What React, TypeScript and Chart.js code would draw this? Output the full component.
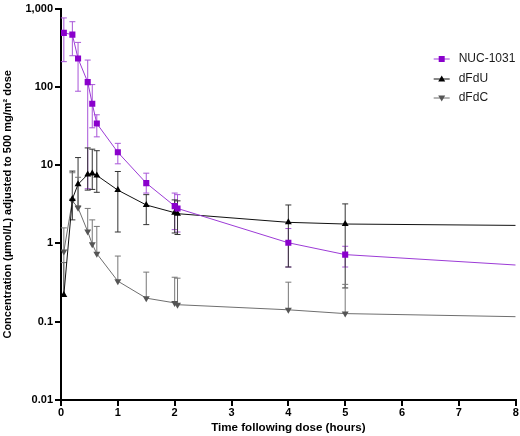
import React, { useEffect, useRef } from "react";
import { Chart, registerables } from "chart.js";

Chart.register(...registerables);

// Time points (hours); the last point (8 h) is the fitted-curve end, drawn without a marker
const timesH = [0.05, 0.2, 0.3, 0.47, 0.55, 0.63, 1, 1.5, 2, 2.05, 4, 5, 8];

const nucMean = [490, 465, 230, 115, 61, 34, 14.6, 5.9, 3.0, 2.8, 1.02, 0.72, 0.53];
const nucUpper = [760, 680, 370, 220, 107, 44, 19, 7.9, 4.4, 4.2, 1.55, 0.92, null];
const nucLower = [210, 250, 88, 5.0, 30, 23, 10.4, 4.4, 1.5, 1.4, 0.5, 0.5, null];

const dfduMean = [0.22, 3.7, 5.7, 7.6, 7.85, 7.4, 4.8, 3.1, 2.47, 2.4, 1.86, 1.77, 1.7];
const dfduUpper = [0.57, 8.4, 12.5, 16.6, 16, 15.3, 8.3, 4.2, 3.6, 3.5, 3.1, 3.2, null];
const dfduLower = [null, 2.0, 3.0, 4.8, 4.9, 4.5, 1.4, 1.74, 1.36, 1.3, 0.5, 0.27, null];

const dfdcMean = [0.79, 3.5, 2.85, 1.42, 0.98, 0.74, 0.33, 0.2, 0.174, 0.165, 0.142, 0.127, 0.116];
const dfdcUpper = [1.58, 8.0, 7.0, 2.8, 2.0, 1.65, 0.69, 0.43, 0.37, 0.36, 0.32, 0.3, null];
const dfdcLower = [0.57, null, null, null, null, null, null, null, null, null, null, null, null];

const seriesLabels = ["NUC-1031", "dFdU", "dFdC"];

const yTickValues = [0.01, 0.1, 1, 10, 100, 1000];
const yTickLabels = ["0.01", "0.1", "1", "10", "100", "1,000"];
const xTickValues = [0, 1, 2, 3, 4, 5, 6, 7, 8];

const FONT = "'Liberation Sans', Arial, Helvetica, sans-serif";

const errorBarPlugin = {
  id: "errorBars",
  beforeDatasetsDraw(chart: any) {
    const ctx = chart.ctx;
    const yScale = chart.scales.y;
    chart.data.datasets.forEach((ds: any, i: number) => {
      const meta = chart.getDatasetMeta(i);
      const up: (number | null)[] = ds.errUpper || [];
      const lo: (number | null)[] = ds.errLower || [];
      ctx.save();
      ctx.strokeStyle = ds.errColor;
      ctx.lineWidth = 1;
      meta.data.forEach((el: any, j: number) => {
        const x = el.x;
        const yv = el.y;
        const u = up[j];
        const l = lo[j];
        const cap = 3;
        if (u != null) {
          const yu = yScale.getPixelForValue(u);
          ctx.beginPath();
          ctx.moveTo(x, yv);
          ctx.lineTo(x, yu);
          ctx.moveTo(x - cap, yu);
          ctx.lineTo(x + cap, yu);
          ctx.stroke();
        }
        if (l != null) {
          const yl = yScale.getPixelForValue(l);
          ctx.beginPath();
          ctx.moveTo(x, yv);
          ctx.lineTo(x, yl);
          ctx.moveTo(x - cap, yl);
          ctx.lineTo(x + cap, yl);
          ctx.stroke();
        }
      });
      ctx.restore();
    });
  },
};

const legendPlugin = {
  id: "customLegend",
  afterDraw(chart: any) {
    const ctx = chart.ctx;
    const area = chart.chartArea;
    const mx = area.right - 74;
    const tx = area.right - 57;
    const rows = [59, 79, 98];
    chart.data.datasets.forEach((ds: any, i: number) => {
      const y = rows[i];
      ctx.save();
      ctx.strokeStyle = ds.borderColor;
      ctx.lineWidth = 1;
      ctx.beginPath();
      ctx.moveTo(mx - 8, y);
      ctx.lineTo(mx + 8, y);
      ctx.stroke();
      ctx.fillStyle = ds.pointBackgroundColor;
      ctx.strokeStyle = ds.pointBackgroundColor;
      if (ds.pointStyle === "rect") {
        ctx.fillRect(mx - 3, y - 3, 6, 6);
      } else {
        const r = 3.5;
        const dir = ds.pointRotation === 180 ? -1 : 1;
        ctx.beginPath();
        ctx.moveTo(mx, y - dir * r);
        ctx.lineTo(mx - r, y + dir * r * 0.7);
        ctx.lineTo(mx + r, y + dir * r * 0.7);
        ctx.closePath();
        ctx.fill();
      }
      ctx.fillStyle = "#1a1a1a";
      ctx.font = `12px ${FONT}`;
      ctx.textBaseline = "middle";
      ctx.textAlign = "left";
      ctx.fillText(seriesLabels[i], tx, y);
      ctx.restore();
    });
  },
};

function pts(vals: number[]) {
  return timesH.map((t, i) => ({ x: t, y: vals[i] }));
}

function radii(r: number) {
  return timesH.map((_, i) => (i === timesH.length - 1 ? 0 : r));
}

export default function App() {
  const ref = useRef<HTMLCanvasElement | null>(null);

  useEffect(() => {
    if (!ref.current) return;
    const chart = new Chart(ref.current, {
      type: "line",
      data: {
        datasets: [
          {
            label: seriesLabels[0],
            data: pts(nucMean),
            borderColor: "#9C3BD6",
            borderWidth: 1,
            pointStyle: "rect",
            pointRadius: radii(4.3),
            pointBackgroundColor: "#8A00CC",
            pointBorderColor: "#8A00CC",
            pointBorderWidth: 0,
            tension: 0,
            errUpper: nucUpper,
            errLower: nucLower,
            errColor: "#A855D8",
          } as any,
          {
            label: seriesLabels[1],
            data: pts(dfduMean),
            borderColor: "#111111",
            borderWidth: 1,
            pointStyle: "triangle",
            pointRadius: radii(4),
            pointBackgroundColor: "#000000",
            pointBorderColor: "#000000",
            pointBorderWidth: 0,
            tension: 0,
            errUpper: dfduUpper,
            errLower: dfduLower,
            errColor: "#333333",
          } as any,
          {
            label: seriesLabels[2],
            data: pts(dfdcMean),
            borderColor: "#6f6f6f",
            borderWidth: 1,
            pointStyle: "triangle",
            pointRotation: 180,
            pointRadius: radii(4),
            pointBackgroundColor: "#555555",
            pointBorderColor: "#555555",
            pointBorderWidth: 0,
            tension: 0,
            errUpper: dfdcUpper,
            errLower: dfdcLower,
            errColor: "#777777",
          } as any,
        ],
      },
      options: {
        animation: false,
        responsive: false,
        maintainAspectRatio: false,
        devicePixelRatio: 1,
        layout: { padding: { top: 5, right: 3, left: 0, bottom: 0 } },
        plugins: {
          legend: { display: false },
          tooltip: { enabled: false },
        },
        scales: {
          x: {
            type: "linear",
            min: 0,
            max: 8,
            afterBuildTicks: (scale: any) => {
              scale.ticks = xTickValues.map((v) => ({ value: v }));
            },
            afterFit: (scale: any) => {
              scale.height = 36;
            },
            ticks: {
              color: "#000",
              font: { family: FONT, size: 11, weight: "bold" },
              padding: 0,
              maxRotation: 0,
            },
            grid: {
              drawOnChartArea: false,
              drawTicks: true,
              tickLength: 6,
              color: "#000",
              lineWidth: 2,
            },
            border: { display: true, color: "#000", width: 2 },
            title: {
              display: true,
              text: "Time following dose (hours)",
              color: "#000",
              font: { family: FONT, size: 11.6, weight: "bold" },
              padding: { top: 0, bottom: 1 },
            },
          },
          y: {
            type: "logarithmic",
            min: 0.01,
            max: 1000,
            afterBuildTicks: (scale: any) => {
              scale.ticks = yTickValues.map((v) => ({ value: v }));
            },
            afterFit: (scale: any) => {
              scale.width = 61;
            },
            ticks: {
              color: "#000",
              font: { family: FONT, size: 11, weight: "bold" },
              padding: 2,
              callback: (v: any) => {
                const idx = yTickValues.findIndex((t) => Math.abs(t - Number(v)) < t * 1e-6);
                return idx >= 0 ? yTickLabels[idx] : "";
              },
            },
            grid: {
              drawOnChartArea: false,
              drawTicks: true,
              tickLength: 6,
              color: "#000",
              lineWidth: 2,
            },
            border: { display: true, color: "#000", width: 2 },
            title: {
              display: true,
              text: "Concentration (µmol/L) adjusted to 500 mg/m² dose",
              color: "#000",
              font: { family: FONT, size: 11, weight: "bold" },
              padding: { top: 1, bottom: 0 },
            },
          },
        },
      },
      plugins: [errorBarPlugin, legendPlugin],
    } as any);
    return () => chart.destroy();
  }, []);

  return (
    <div style={{ position: "absolute", left: 0, top: 0, width: 520, height: 436, background: "#fff" }}>
      <canvas ref={ref} width={520} height={436} style={{ width: 520, height: 436, display: "block" }} />
    </div>
  );
}
